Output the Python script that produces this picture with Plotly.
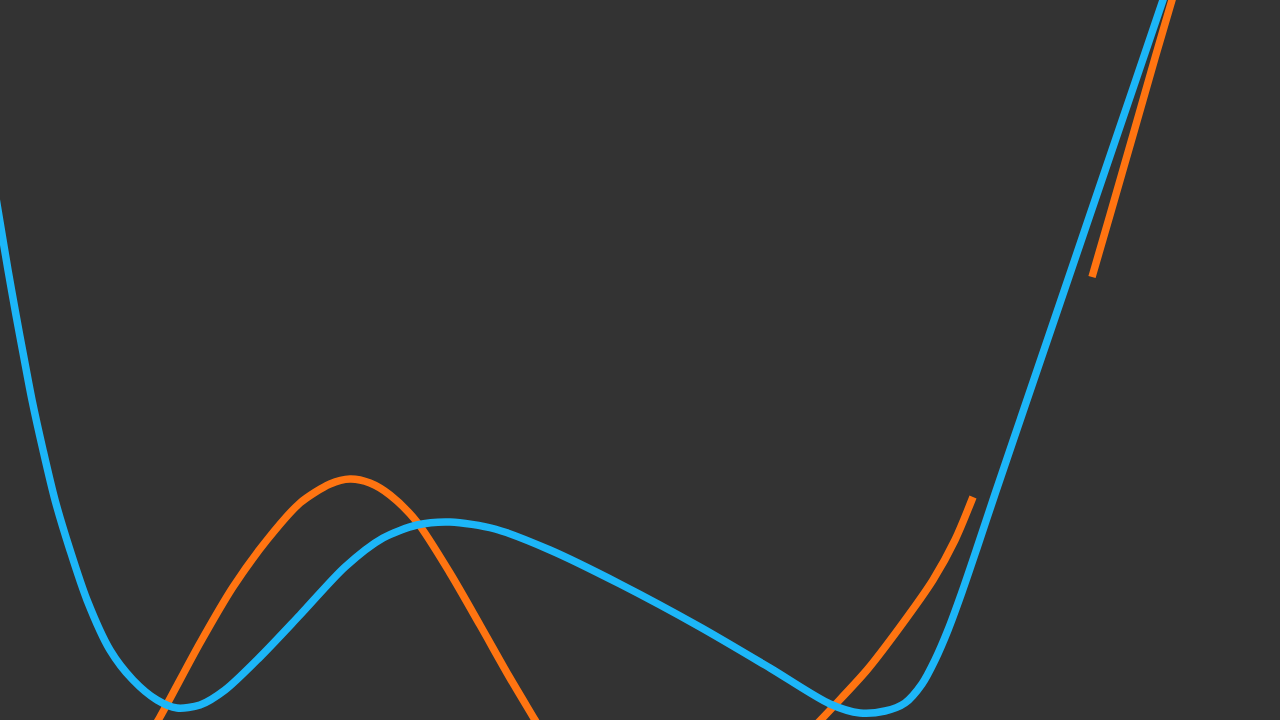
import plotly.graph_objects as go

# blue curve (x, y in screen units, y grows downward)
blue_x = [-4, 0, 8, 16, 24, 32, 43, 55, 70, 87, 110, 133, 157, 177, 200, 225, 260,
          300, 345, 383, 417, 450, 495, 550, 620, 700, 770, 830, 860, 885,
          905, 922, 935, 948, 962, 977, 995, 1013, 1060, 1110, 1163, 1172]
blue_y = [198, 222, 270, 315, 358, 400, 450, 500, 550, 600, 650, 680, 700, 708, 705, 690, 657,
          615, 567, 538, 525, 522, 529, 550, 584, 627, 668, 704, 713, 711,
          703, 684, 660, 630, 592, 548, 494, 441, 303, 156, 0, -27]

# orange curve, three separate pieces
orange_x = [148, 160, 200, 233, 267, 300, 330, 350, 370, 390, 417, 450, 480, 510, 535, 545,
            None,
            815, 833, 867, 900, 933, 955, 973,
            None,
            1092, 1110, 1133, 1155, 1172, 1182]
orange_y = [737, 717, 643, 587, 540, 503, 484, 479, 483, 495, 522, 573, 625, 678, 720, 737,
            None,
            726, 707, 670, 627, 580, 540, 497,
            None,
            277, 215, 135, 58, 0, -35]

fig = go.Figure()
fig.add_trace(go.Scatter(x=orange_x, y=orange_y, mode="lines",
                         line=dict(color="#ff7411", width=7.5, shape="spline", smoothing=0.8),
                         connectgaps=False))
fig.add_trace(go.Scatter(x=blue_x, y=blue_y, mode="lines",
                         line=dict(color="#1cb6f8", width=7.5, shape="spline", smoothing=0.8)))

fig.update_layout(width=1280, height=720, margin=dict(l=0, r=0, t=0, b=0),
                  paper_bgcolor="#333333", plot_bgcolor="#333333", showlegend=False)
fig.update_xaxes(range=[0, 1280], visible=False)
fig.update_yaxes(range=[720, 0], visible=False)
fig.write_html("out.html", config={"displayModeBar": False},
               post_script="document.body.style.margin='0';document.body.style.background='#333333';")
